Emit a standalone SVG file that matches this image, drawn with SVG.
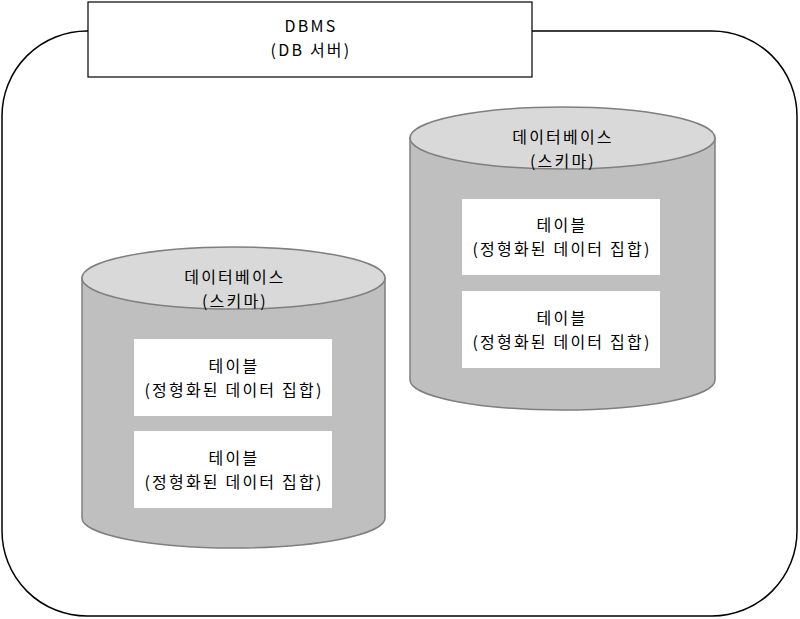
<svg xmlns="http://www.w3.org/2000/svg" width="800" height="619" viewBox="0 0 800 619">
<style>
text{font-family:"Noto Sans CJK KR","Noto Sans",sans-serif;font-size:16px;letter-spacing:2.2px;fill:#000;text-anchor:middle}
.body{fill:#bfbfbf;stroke:#7f7f7f;stroke-width:1.5}
.top{fill:#d9d9d9;stroke:#7f7f7f;stroke-width:1.5}
.tbl{fill:#fff}
</style>
<rect x="2" y="31" width="795" height="585" rx="85" fill="#fff" stroke="#000" stroke-width="1.5"/>
<g id="dbms"><rect x="88" y="2" width="444" height="75" fill="#fff" stroke="#000" stroke-width="1.2"/>
<text x="311" y="32">DBMS</text><text x="311" y="56">(DB 서버)</text></g>
<g id="db2">
<path class="body" d="M410 138 V380 A152.5 30 0 0 0 715 380 V138 Z"/>
<ellipse class="top" cx="562.5" cy="138" rx="152.5" ry="31"/>
<text x="563" y="143">데이터베이스</text><text x="563" y="167">(스키마)</text>
<g id="t3"><rect class="tbl" x="462" y="199" width="198" height="76"/><text x="562" y="231">테이블</text><text x="562" y="255">(정형화된 데이터 집합)</text></g>
<g id="t4"><rect class="tbl" x="462" y="291" width="198" height="77"/><text x="562" y="324">테이블</text><text x="562" y="348">(정형화된 데이터 집합)</text></g>
</g>
<g id="db1">
<path class="body" d="M82 278 V518 A151.5 30 0 0 0 385 518 V278 Z"/>
<ellipse class="top" cx="233.5" cy="278" rx="151.5" ry="31"/>
<text x="235" y="283">데이터베이스</text><text x="235" y="307">(스키마)</text>
<g id="t1"><rect class="tbl" x="134" y="339" width="198" height="77"/><text x="234" y="372">테이블</text><text x="234" y="396">(정형화된 데이터 집합)</text></g>
<g id="t2"><rect class="tbl" x="134" y="431" width="198" height="77"/><text x="234" y="464">테이블</text><text x="234" y="488">(정형화된 데이터 집합)</text></g>
</g>
<g id="connectors"/>
</svg>
